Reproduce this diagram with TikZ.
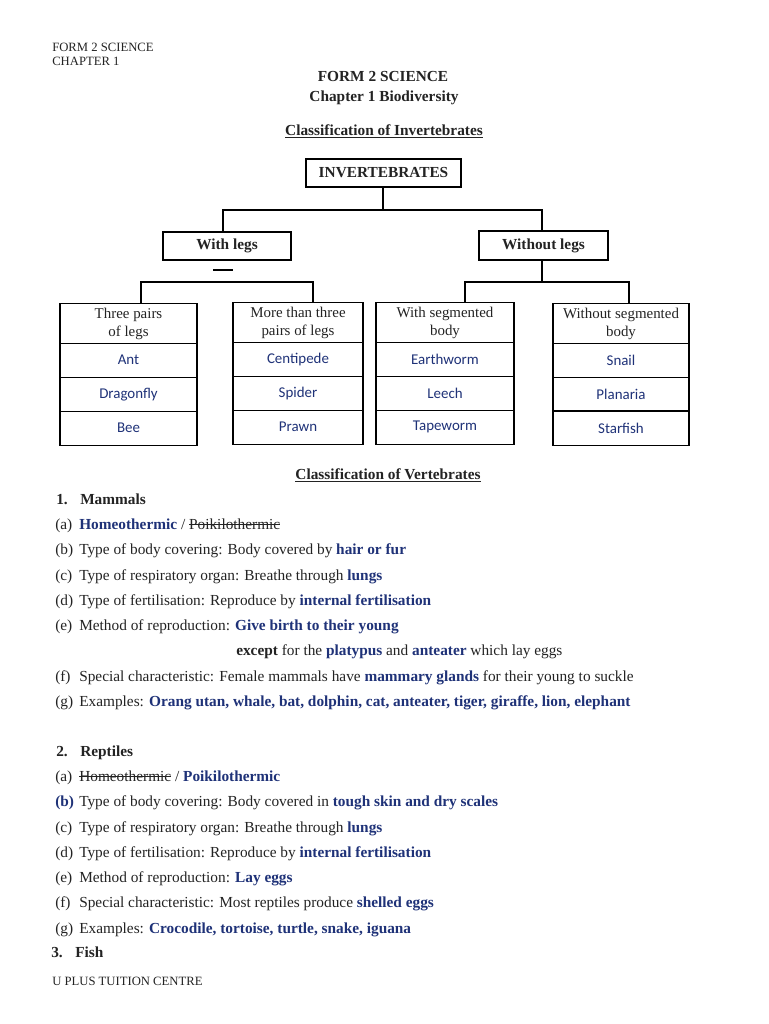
\documentclass[tikz,border=0pt]{standalone}
\usepackage{fontspec}
\setmainfont{Liberation Serif}
\newfontfamily\calibfont{Carlito}
\usetikzlibrary{positioning}
\definecolor{navy}{RGB}{31,50,120}
\definecolor{ink}{RGB}{35,35,35}
\newcommand\hi[1]{{\color{navy}\bfseries #1}}
\newcommand\lab[1]{\makebox[18pt][l]{#1}}
\newcommand\strike[1]{\setbox0\hbox{#1}\rlap{\raisebox{0.3em}{\rule{\wd0}{0.5pt}}}\box0\relax}
\newcommand\bodysize{\fontsize{11.5}{14}\selectfont}

\begin{document}
\begin{tikzpicture}[x=0.75pt,y=-0.75pt,
  box/.style={draw,line width=0.9pt,inner sep=0pt,outer sep=0pt,text=ink,font=\bodysize\bfseries},
  grp/.style={draw,line width=0.9pt,inner sep=0pt,outer sep=0pt,align=center,text=ink,
    minimum height=29.5pt,font=\fontsize{11.2}{13.5}\selectfont},
  item/.style={draw,line width=0.9pt,inner sep=0pt,outer sep=0pt,text=navy,
    minimum height=25.5pt,font=\calibfont\fontsize{11.2}{13}\selectfont},
  conn/.style={line width=1.3pt},
  txt/.style={anchor=base west,inner sep=0pt,text=ink,font=\bodysize},
  hdr/.style={anchor=base west,inner sep=0pt,text=ink,font=\fontsize{9.5}{11}\selectfont},
  ttl/.style={anchor=base,inner sep=0pt,text=ink,font=\bodysize\bfseries}]
\useasboundingbox[fill=white] (0,0) rectangle (768,1024);
% page header
\node[hdr] (hd1) at (52,52) {FORM 2 SCIENCE};
\node[hdr] (hd2) at (52,66) {CHAPTER 1};
\node[ttl] (t1) at (383,82) {FORM 2 SCIENCE};
\node[ttl] (t2) at (384,102) {Chapter 1 Biodiversity};
\node[ttl] (t3) at (384,135) {\underline{Classification of Invertebrates}};
% invertebrate tree
\node[box,minimum width=116.25pt,minimum height=21pt] (inv) at (383.5,173) {INVERTEBRATES};
\node[box,minimum width=96pt,minimum height=21pt] (legs) at (227,246) {With legs};
\node[box,minimum width=96.75pt,minimum height=21.75pt] (nolegs) at (543.5,245.5) {Without legs};
\node[grp,minimum width=102.75pt] (three) at (128.5,323.5) {Three pairs\\of legs};
\node[item,minimum width=102.75pt,below=0pt of three] (ant) {Ant};
\node[item,minimum width=102.75pt,below=0pt of ant] (dragonfly) {Dragonfly};
\node[item,minimum width=102.75pt,below=0pt of dragonfly] (bee) {Bee};
\node[grp,minimum width=97.5pt] (more) at (298,322.5) {More than three\\pairs of legs};
\node[item,minimum width=97.5pt,below=0pt of more] (centipede) {Centipede};
\node[item,minimum width=97.5pt,below=0pt of centipede] (spider) {Spider};
\node[item,minimum width=97.5pt,below=0pt of spider] (prawn) {Prawn};
\node[grp,minimum width=103.5pt] (seg) at (445,322.5) {With segmented\\body};
\node[item,minimum width=103.5pt,below=0pt of seg] (earthworm) {Earthworm};
\node[item,minimum width=103.5pt,below=0pt of earthworm] (leech) {Leech};
\node[item,minimum width=103.5pt,below=0pt of leech] (tapeworm) {Tapeworm};
\node[grp,minimum width=102pt] (noseg) at (621,323.5) {Without segmented\\body};
\node[item,minimum width=102pt,below=0pt of noseg] (snail) {Snail};
\node[item,minimum width=102pt,below=0pt of snail] (planaria) {Planaria};
\node[item,minimum width=102pt,below=0pt of planaria] (starfish) {Starfish};
\draw[line width=1.4pt] (starfish.north west) -- (starfish.north east);
% connectors
\draw[conn] ([xshift=-0.4pt]inv.south) -- ++(0,23) coordinate (j0);
\draw[conn] ([xshift=-3pt]legs.north) |- (j0) -| ([xshift=-1.1pt]nolegs.north);
\draw[conn] (legs.south) ++(-14,10) -- ++(20,0);
\draw[conn] ([xshift=9.4pt]three.north) -- ++(0,-22) -| ([xshift=11.25pt]more.north);
\draw[conn] ([xshift=-1.1pt]nolegs.south) -- ++(0,22) coordinate (j1);
\draw[conn] ([xshift=15pt]seg.north) |- (j1) -| ([xshift=6pt]noseg.north);
% vertebrates
\node[ttl] (t4) at (388,479) {\underline{Classification of Vertebrates}};
\node[txt] (m0) at (56,504) {\textbf{\lab{1.}Mammals}};
\node[txt] (ma) at (55,529) {\lab{(a)}\hi{Homeothermic} / \strike{Poikilothermic}};
\node[txt] (mb) at (55,554) {\lab{(b)}Type of body covering: Body covered by \hi{hair or fur}};
\node[txt] (mc) at (55,580) {\lab{(c)}Type of respiratory organ: Breathe through \hi{lungs}};
\node[txt] (md) at (55,605) {\lab{(d)}Type of fertilisation: Reproduce by \hi{internal fertilisation}};
\node[txt] (me) at (55,630) {\lab{(e)}Method of reproduction: \hi{Give birth to their young}};
\node[txt] (mx) at (236,655) {\textbf{except} for the \hi{platypus} and \hi{anteater} which lay eggs};
\node[txt] (mf) at (55,681) {\lab{(f)}Special characteristic: Female mammals have \hi{mammary glands} for their young to suckle};
\node[txt] (mg) at (55,706) {\lab{(g)}Examples: \hi{Orang utan, whale, bat, dolphin, cat, anteater, tiger, giraffe, lion, elephant}};
\node[txt] (r0) at (56,756) {\textbf{\lab{2.}Reptiles}};
\node[txt] (ra) at (55,781) {\lab{(a)}\strike{Homeothermic} / \hi{Poikilothermic}};
\node[txt] (rb) at (55,806) {\lab{\hi{(b)}}Type of body covering: Body covered in \hi{tough skin and dry scales}};
\node[txt] (rc) at (55,832) {\lab{(c)}Type of respiratory organ: Breathe through \hi{lungs}};
\node[txt] (rd) at (55,857) {\lab{(d)}Type of fertilisation: Reproduce by \hi{internal fertilisation}};
\node[txt] (re) at (55,882) {\lab{(e)}Method of reproduction: \hi{Lay eggs}};
\node[txt] (rf) at (55,907) {\lab{(f)}Special characteristic: Most reptiles produce \hi{shelled eggs}};
\node[txt] (rg) at (55,933) {\lab{(g)}Examples: \hi{Crocodile, tortoise, turtle, snake, iguana}};
\node[txt] (f0) at (51,957) {\textbf{\lab{3.}Fish}};
% footer
\node[hdr] (ft) at (52,985) {U PLUS TUITION CENTRE};
\end{tikzpicture}
\end{document}
